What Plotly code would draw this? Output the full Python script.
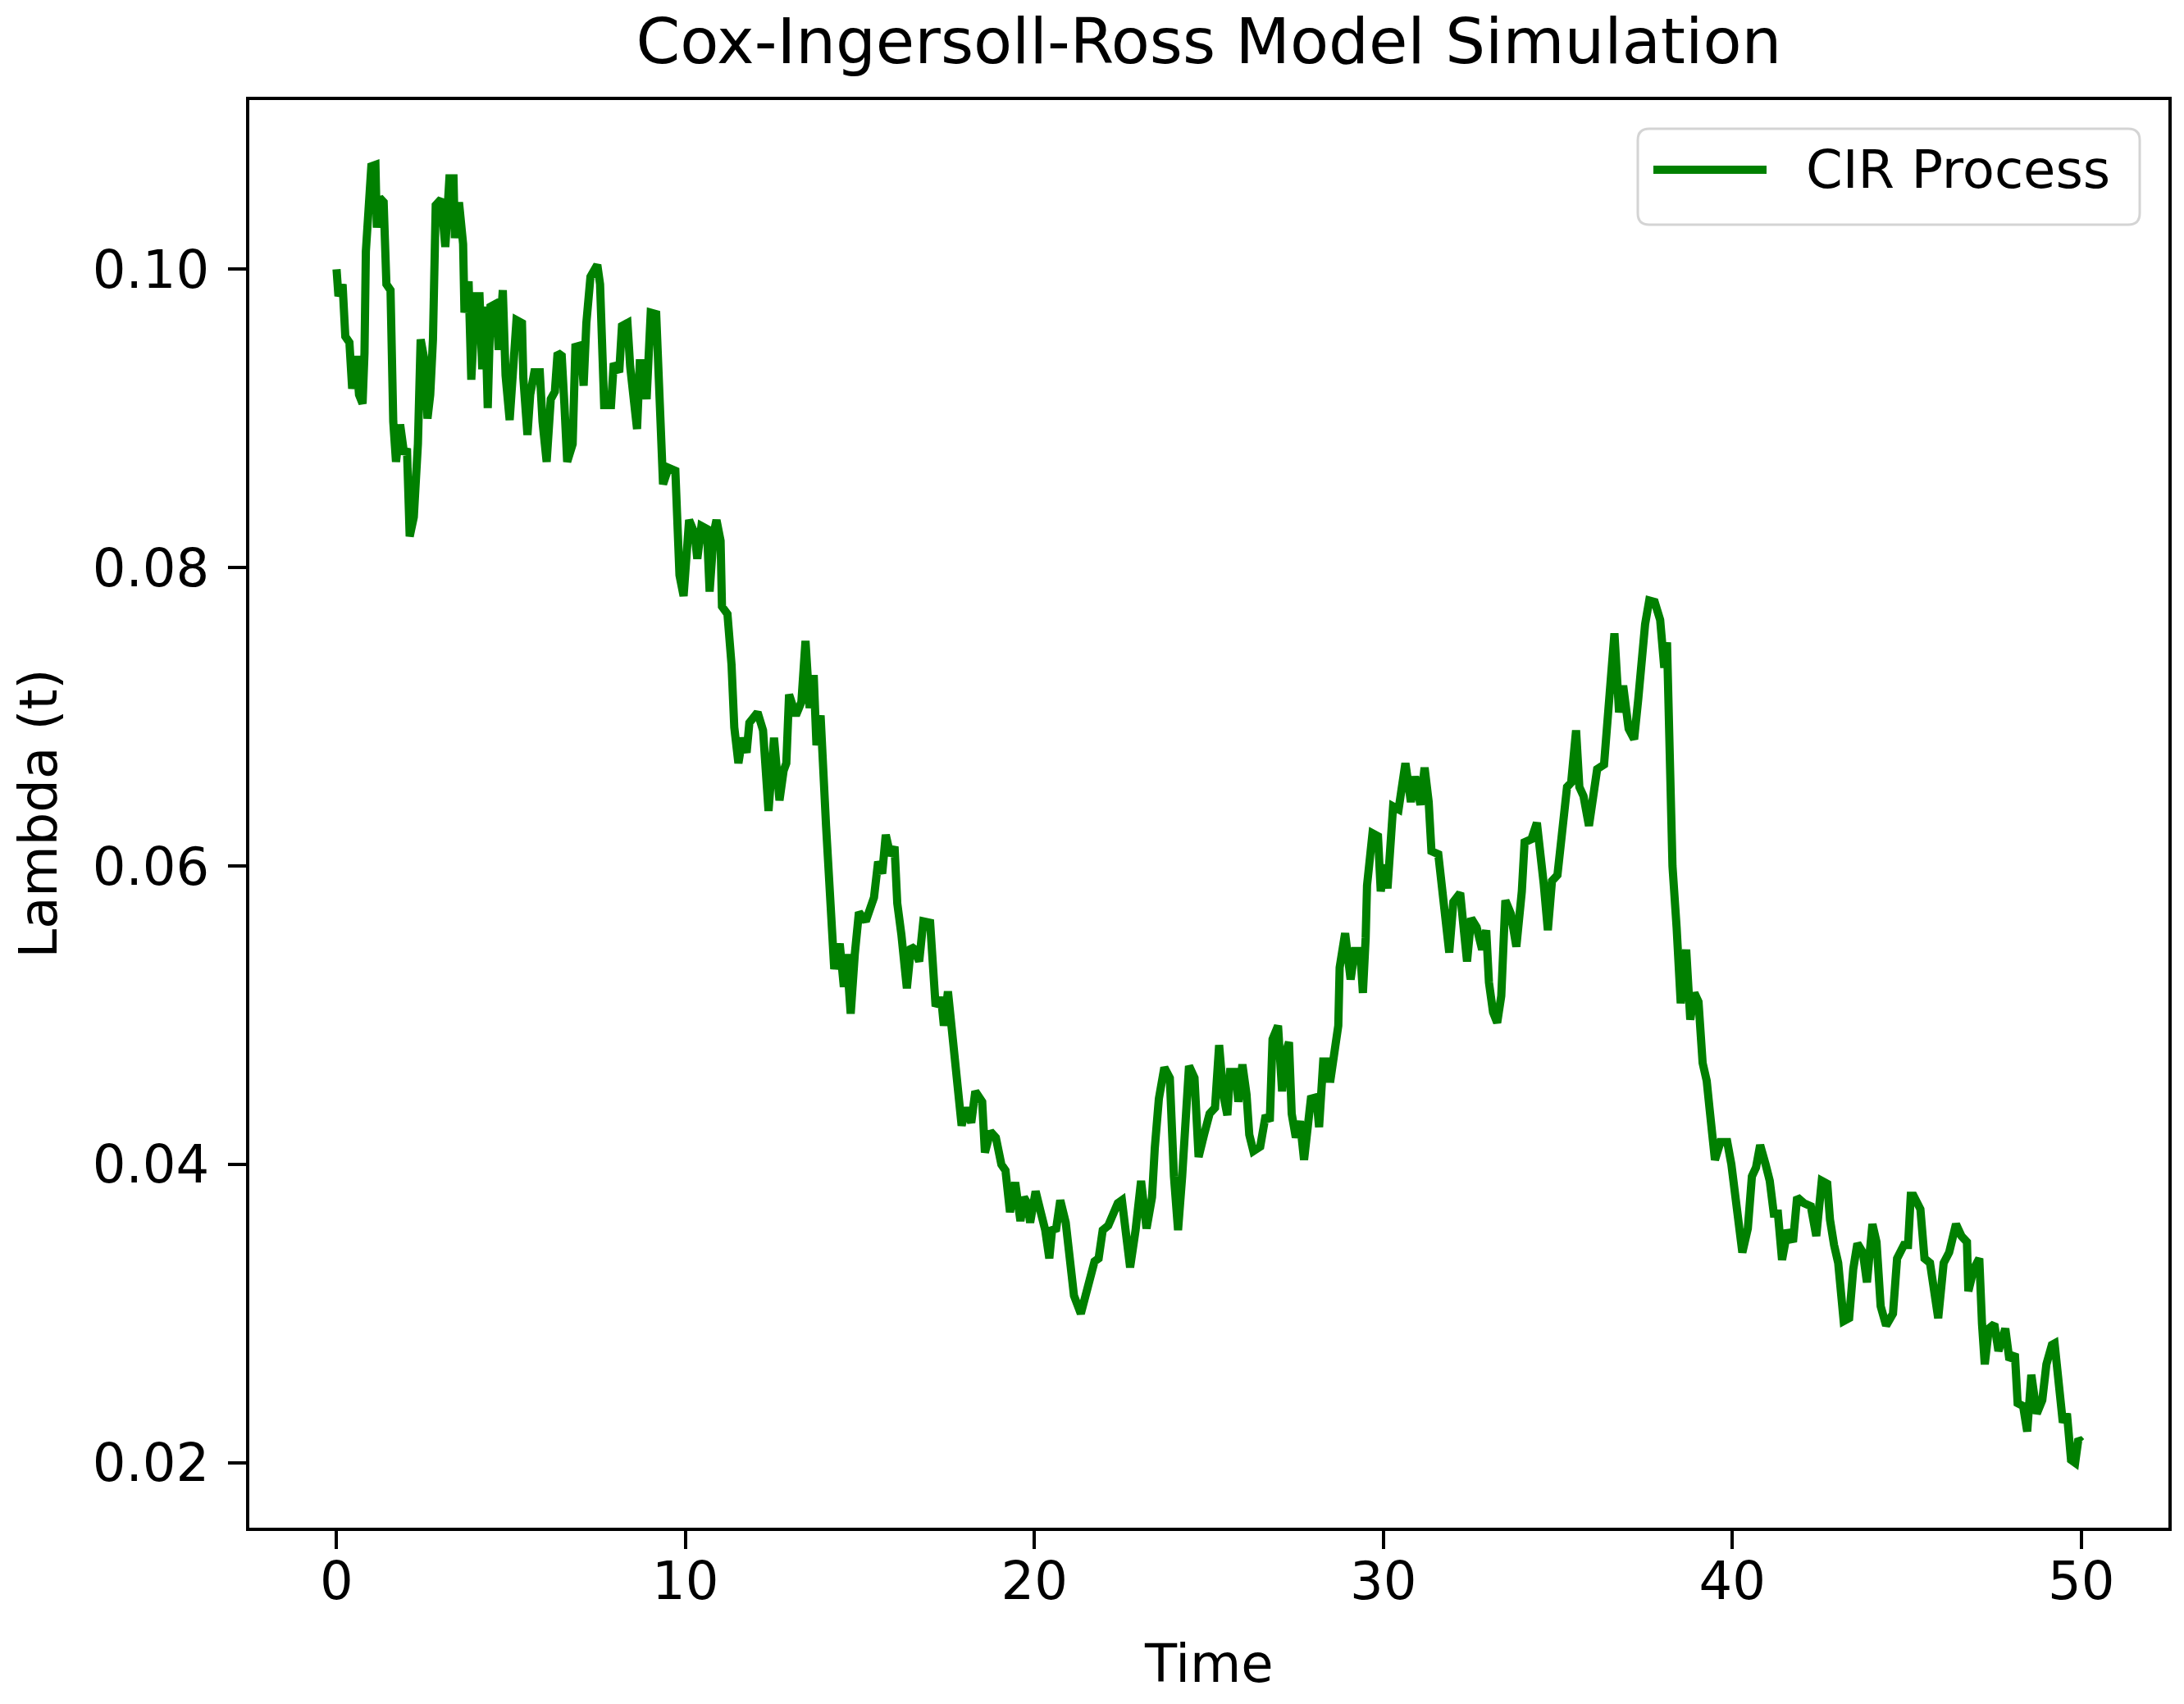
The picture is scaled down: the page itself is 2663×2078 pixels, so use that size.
import plotly.graph_objects as go

# ---------------- data ----------------
time = [
    0.000, 0.055, 0.173, 0.251, 0.369, 0.448, 0.565, 0.644, 0.746, 0.801, 0.840, 0.919, 0.997, 1.115, 1.154,
    1.233, 1.350, 1.429, 1.547, 1.625, 1.704, 1.822, 1.939, 2.018, 2.096, 2.214, 2.332, 2.410, 2.528, 2.606,
    2.685, 2.763, 2.842, 2.999, 3.117, 3.234, 3.352, 3.391, 3.509, 3.627, 3.666, 3.784, 3.862, 3.980, 4.098,
    4.176, 4.255, 4.333, 4.412, 4.569, 4.647, 4.765, 4.844,
    4.961, 5.079, 5.157, 5.314, 5.354, 5.471, 5.550, 5.668, 5.825, 5.903, 6.021, 6.139, 6.257, 6.335, 6.453,
    6.531, 6.610, 6.767, 6.845, 7.002, 7.081, 7.159, 7.277, 7.473, 7.552, 7.670, 7.866, 7.944, 8.101, 8.180,
    8.337, 8.415, 8.494, 8.612, 8.690, 8.808, 8.886, 9.004, 9.161, 9.240, 9.357, 9.514, 9.710, 9.828, 9.946,
    10.104, 10.261, 10.339, 10.457, 10.614, 10.692, 10.810, 10.889, 11.006, 11.046, 11.203, 11.320, 11.399,
    11.517, 11.634, 11.752, 11.831, 12.066, 12.223, 12.380, 12.537, 12.694, 12.812, 12.890, 12.969, 13.165,
    13.322, 13.440, 13.558, 13.675, 13.754, 13.872, 14.029, 14.146, 14.264, 14.421, 14.539, 14.617, 14.735,
    14.853, 14.971,
    15.167, 15.285, 15.403, 15.521, 15.638, 15.740, 15.874, 15.992, 16.070, 16.188, 16.345, 16.463, 16.580,
    16.698, 16.816, 17.012, 17.091, 17.169, 17.326, 17.405, 17.522, 17.640, 17.758, 17.915, 18.033, 18.190,
    18.307, 18.504, 18.582, 18.739, 18.896, 19.053, 19.171, 19.300, 19.450, 19.600, 19.700,
    19.799, 19.878, 20.035, 20.192, 20.310, 20.427, 20.506, 20.624, 20.741, 20.898, 21.016, 21.134, 21.330,
    21.566, 21.723, 21.840, 21.958, 22.115, 22.233, 22.390, 22.508, 22.665, 22.743, 22.900, 23.057, 23.214,
    23.371, 23.450, 23.567, 23.724, 23.881, 23.999, 24.117, 24.235, 24.352, 24.431, 24.588, 24.706, 24.863,
    25.020,
    25.176, 25.294, 25.412, 25.530, 25.608, 25.765, 25.844, 25.961, 26.079, 26.158, 26.275, 26.472, 26.628,
    26.746, 26.825, 26.982, 27.099, 27.178, 27.296, 27.374, 27.492, 27.610, 27.728, 27.845, 27.924, 28.081,
    28.159, 28.277, 28.434, 28.473, 28.591, 28.709, 28.748, 28.905, 29.062, 29.180, 29.337, 29.415, 29.494,
    29.533, 29.690, 29.847, 29.926, 30.043, 30.120,
    30.280, 30.437, 30.633, 30.790, 30.908, 31.065, 31.182, 31.300, 31.379, 31.575, 31.653, 31.771, 31.889,
    32.007, 32.203, 32.321, 32.399, 32.517, 32.674, 32.831, 32.949, 33.027, 33.145, 33.263, 33.380, 33.498,
    33.655, 33.812, 33.969, 34.048, 34.244, 34.401, 34.519, 34.597, 34.715, 34.833, 34.990, 35.068, 35.147,
    35.265, 35.383, 35.524, 35.618, 35.736, 35.893, 36.011, 36.128, 36.325, 36.403, 36.482, 36.623, 36.756,
    36.874, 37.031, 37.188, 37.306, 37.384, 37.502, 37.620, 37.777, 37.934, 38.052, 38.130, 38.209, 38.287,
    38.405, 38.523, 38.680, 38.797, 38.915, 39.033, 39.151, 39.268, 39.347, 39.504, 39.661, 39.857, 39.975,
    40.132, 40.289, 40.446, 40.563, 40.681, 40.799, 40.956, 41.074, 41.191, 41.309, 41.427, 41.584, 41.741,
    41.859, 42.055, 42.251, 42.408, 42.565, 42.722, 42.801, 42.918, 43.036, 43.193, 43.350, 43.468, 43.586,
    43.743, 43.860, 44.017, 44.135, 44.253, 44.410, 44.606, 44.724, 44.920, 45.038, 45.116,
    45.196, 45.392, 45.510, 45.667, 45.784, 45.902, 46.059, 46.216, 46.412, 46.569, 46.726, 46.766, 46.923,
    47.080, 47.158, 47.237, 47.354, 47.511, 47.629, 47.825, 47.943, 48.100, 48.179, 48.336, 48.453, 48.571,
    48.728, 48.885, 49.003, 49.160, 49.238, 49.356, 49.474, 49.592, 49.709, 49.827, 49.920, 50.000,
]

lam = [
    0.1000, 0.0982, 0.0990, 0.0955, 0.0951, 0.0920, 0.0942, 0.0916, 0.0910, 0.0944, 0.1012, 0.1039, 0.1069, 0.1070, 0.1028,
    0.1048, 0.1045, 0.0990, 0.0986, 0.0898, 0.0871, 0.0896, 0.0876, 0.0880, 0.0821, 0.0834, 0.0883, 0.0953, 0.0938, 0.0900,
    0.0916, 0.0953, 0.1043, 0.1047, 0.1015, 0.1061, 0.1061, 0.1021, 0.1045, 0.1017, 0.0971, 0.0992, 0.0926, 0.0982, 0.0982,
    0.0933, 0.0975, 0.0907, 0.0975, 0.0977, 0.0946, 0.0986, 0.0929,
    0.0899, 0.0944, 0.0966, 0.0964, 0.0927, 0.0889, 0.0916, 0.0931, 0.0931, 0.0898, 0.0871, 0.0913, 0.0918, 0.0944, 0.0942,
    0.0909, 0.0871, 0.0883, 0.0948, 0.0949, 0.0922, 0.0964, 0.0995, 0.1003, 0.0990, 0.0909, 0.0909, 0.0937, 0.0931, 0.0962,
    0.0964, 0.0935, 0.0913, 0.0893, 0.0937, 0.0937, 0.0913, 0.0971, 0.0970, 0.0913, 0.0856, 0.0867, 0.0865, 0.0795, 0.0781,
    0.0832, 0.0823, 0.0806, 0.0828, 0.0826, 0.0784, 0.0823, 0.0832, 0.0818, 0.0774, 0.0769, 0.0735, 0.0693,
    0.0669, 0.0686, 0.0676, 0.0696, 0.0703, 0.0691, 0.0637, 0.0686, 0.0644, 0.0664, 0.0669, 0.0715, 0.0701,
    0.0710, 0.0751, 0.0706, 0.0728, 0.0681, 0.0701, 0.0627, 0.0573, 0.0531, 0.0548, 0.0519, 0.0541, 0.0501,
    0.0541, 0.0569,
    0.0563, 0.0573, 0.0579, 0.0603, 0.0595, 0.0621, 0.0607, 0.0613, 0.0575, 0.0554, 0.0518, 0.0546, 0.0544,
    0.0536, 0.0563, 0.0562, 0.0536, 0.0506, 0.0512, 0.0493, 0.0516, 0.0491, 0.0459, 0.0426, 0.0438, 0.0428,
    0.0449, 0.0442, 0.0408, 0.0422, 0.0418, 0.0400, 0.0396, 0.0368, 0.0388, 0.0362, 0.0378,
    0.0374, 0.0361, 0.0382, 0.0367, 0.0356, 0.0337, 0.0356, 0.0357, 0.0376, 0.0361, 0.0330, 0.0312, 0.0300,
    0.0319, 0.0335, 0.0337, 0.0356, 0.0359, 0.0365, 0.0374, 0.0376, 0.0337, 0.0331, 0.0356, 0.0389, 0.0357,
    0.0378, 0.0411, 0.0444, 0.0465, 0.0458, 0.0392, 0.0356, 0.0392, 0.0447, 0.0466, 0.0458, 0.0405, 0.0420,
    0.0434,
    0.0438, 0.0480, 0.0447, 0.0433, 0.0462, 0.0462, 0.0442, 0.0467, 0.0447, 0.0420, 0.0409, 0.0412, 0.0433,
    0.0429, 0.0484, 0.0493, 0.0449, 0.0473, 0.0482, 0.0434, 0.0418, 0.0429, 0.0403, 0.0425, 0.0444, 0.0445,
    0.0425, 0.0469, 0.0469, 0.0455, 0.0478, 0.0493, 0.0532, 0.0555, 0.0524, 0.0543, 0.0543, 0.0515, 0.0552,
    0.0587, 0.0622, 0.0620, 0.0583, 0.0601, 0.0585,
    0.0640, 0.0638, 0.0669, 0.0643, 0.0660, 0.0641, 0.0666, 0.0643, 0.0610, 0.0608, 0.0590, 0.0568, 0.0542,
    0.0576, 0.0582, 0.0554, 0.0536, 0.0565, 0.0559, 0.0544, 0.0557, 0.0522, 0.0502, 0.0495, 0.0513, 0.0577,
    0.0568, 0.0546, 0.0583, 0.0616, 0.0618, 0.0629, 0.0608, 0.0588, 0.0557, 0.0590, 0.0594, 0.0608, 0.0623,
    0.0653, 0.0656, 0.0691, 0.0653, 0.0647, 0.0627, 0.0647, 0.0665, 0.0668, 0.0692, 0.0700, 0.0756, 0.0703,
    0.0721, 0.0692, 0.0685, 0.0712, 0.0736, 0.0762, 0.0778, 0.0777, 0.0765, 0.0733, 0.0750, 0.0689, 0.0600,
    0.0559, 0.0508, 0.0544, 0.0497, 0.0515, 0.0509, 0.0468, 0.0456, 0.0438, 0.0403, 0.0415, 0.0415, 0.0400,
    0.0370, 0.0341, 0.0357, 0.0392, 0.0398, 0.0413, 0.0400, 0.0389, 0.0367, 0.0367, 0.0336, 0.0356, 0.0348,
    0.0378, 0.0374, 0.0372, 0.0352, 0.0389, 0.0387, 0.0363, 0.0346, 0.0334, 0.0295, 0.0297, 0.0330, 0.0347,
    0.0341, 0.0321, 0.0360, 0.0348, 0.0305, 0.0292, 0.0300, 0.0337, 0.0346, 0.0346, 0.0379,
    0.0379, 0.0370, 0.0337, 0.0334, 0.0315, 0.0297, 0.0334, 0.0341, 0.0360, 0.0352, 0.0348, 0.0315, 0.0330,
    0.0337, 0.0293, 0.0266, 0.0290, 0.0293, 0.0275, 0.0290, 0.0269, 0.0273, 0.0240, 0.0238, 0.0221, 0.0259,
    0.0233, 0.0242, 0.0266, 0.0279, 0.0280, 0.0251, 0.0227, 0.0233, 0.0202, 0.0200, 0.0216, 0.0214,
]

x_ticks = [0, 10, 20, 30, 40, 50]
y_ticks = [0.02, 0.04, 0.06, 0.08, 0.10]
title_text = "Cox-Ingersoll-Ross Model Simulation"
x_label = "Time"
y_label = "Lambda (t)"
series_name = "CIR Process"

# ---------------- layout geometry (pixels) ----------------
W, H = 2663, 2078
ML, MR, MT, MB = 304, 19, 122, 215
PW, PH = W - ML - MR, H - MT - MB
FONT = "DejaVu Sans"
GREEN = "#008000"


def px(x):
    return (x - ML) / PW


def py(y):
    return (H - MB - y) / PH


# matplotlib-like 5% margins
x_lo, x_hi = min(time), max(time)
y_lo, y_hi = min(lam), max(lam)
xpad = 0.05 * (x_hi - x_lo)
ypad = 0.05 * (y_hi - y_lo)

fig = go.Figure()
fig.add_trace(go.Scatter(
    x=time, y=lam, mode="lines", name=series_name,
    line=dict(color=GREEN, width=10), showlegend=False,
))

axis_common = dict(
    showgrid=False, zeroline=False,
    showline=True, linecolor="black", linewidth=4, mirror=True,
    ticks="outside", ticklen=22, tickwidth=4, tickcolor="black",
    tickfont=dict(family=FONT, size=64, color="black"),
)

fig.update_xaxes(range=[x_lo - xpad, x_hi + xpad], tickvals=x_ticks,
                 ticklabelstandoff=-16, **axis_common)
fig.update_yaxes(range=[y_lo - ypad, y_hi + ypad], tickvals=y_ticks,
                 tickformat=".2f", ticklabelstandoff=10, **axis_common)

# legend (matplotlib-style box)
bx0, bx1, by0, by1, rad = 1997, 2609, 157, 274, 14
rx, ry = rad / PW, rad / PH
X0, X1, Y0, Y1 = px(bx0), px(bx1), py(by1), py(by0)
path = (f"M {X0+rx},{Y0} L {X1-rx},{Y0} Q {X1},{Y0} {X1},{Y0+ry} "
        f"L {X1},{Y1-ry} Q {X1},{Y1} {X1-rx},{Y1} L {X0+rx},{Y1} "
        f"Q {X0},{Y1} {X0},{Y1-ry} L {X0},{Y0+ry} Q {X0},{Y0} {X0+rx},{Y0} Z")
shapes = [
    dict(type="path", xref="paper", yref="paper", path=path,
         line=dict(color="#d4d4d4", width=3), fillcolor="rgba(255,255,255,0.8)", layer="above"),
    dict(type="line", xref="paper", yref="paper",
         x0=px(2016), x1=px(2154), y0=py(207), y1=py(207),
         line=dict(color=GREEN, width=10), layer="above"),
]

annotations = [
    dict(text=series_name, xref="paper", yref="paper", x=px(2200), y=py(207),
         xanchor="left", yanchor="middle", showarrow=False,
         font=dict(family=FONT, size=64, color="black")),
    dict(text=x_label, xref="paper", yref="paper", x=0.5, y=py(2029),
         xanchor="center", yanchor="middle", showarrow=False,
         font=dict(family=FONT, size=64, color="black")),
    dict(text=y_label, xref="paper", yref="paper", x=px(46), y=0.5,
         xanchor="center", yanchor="middle", showarrow=False, textangle=-90,
         font=dict(family=FONT, size=64, color="black")),
]

fig.update_layout(
    width=W, height=H, autosize=False,
    margin=dict(l=ML, r=MR, t=MT, b=MB, pad=0),
    paper_bgcolor="white", plot_bgcolor="white",
    title=dict(text=title_text, x=0.5, xref="paper", xanchor="center",
               y=1 - 50 / H, yref="container", yanchor="middle",
               font=dict(family=FONT, size=77, color="black")),
    shapes=shapes, annotations=annotations, showlegend=False,
)

fig.write_html("out.html")
